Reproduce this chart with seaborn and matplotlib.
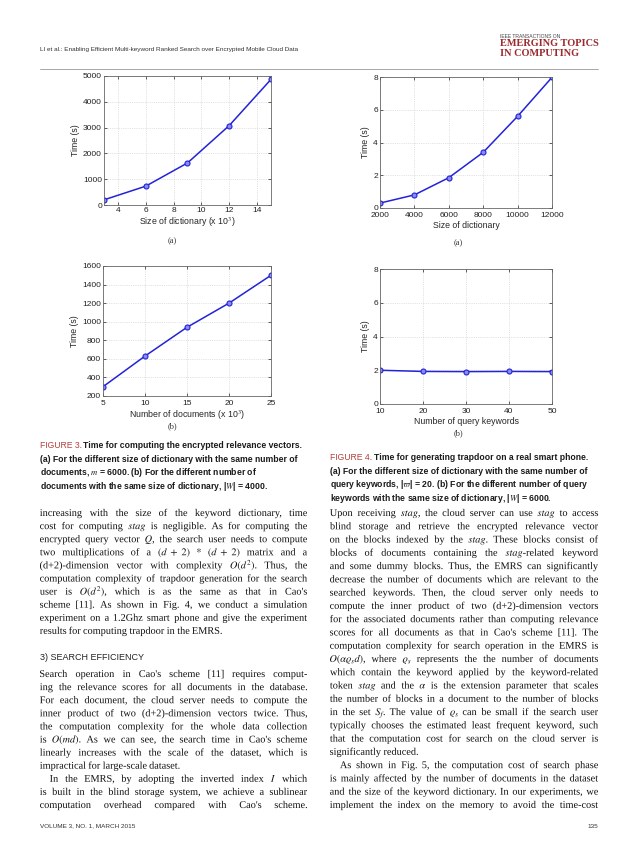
import re
import matplotlib
matplotlib.use("Agg")
import matplotlib.pyplot as plt
import matplotlib.transforms as mtransforms
from matplotlib.textpath import TextPath
from matplotlib.patches import PathPatch
from matplotlib.font_manager import FontProperties
import pandas as pd
import seaborn as sns

# ---- data ----
dict_size_k = [3, 6, 9, 12, 15]
enc_time_dict = [200, 730, 1630, 3080, 4870]
num_docs_k = [5, 10, 15, 20, 25]
enc_time_docs = [300, 630, 940, 1200, 1500]
dict_size = [2000, 4000, 6000, 8000, 10000, 12000]
trap_time_dict = [0.3, 0.8, 1.85, 3.4, 5.6, 7.98]
query_kw = [10, 20, 30, 40, 50]
trap_time_kw = [2.0, 1.93, 1.92, 1.93, 1.92]

W, H = 638, 867
sns.set_theme(style="ticks")
plt.rcParams["font.family"] = ["Liberation Sans", "DejaVu Sans"]
plt.rcParams["mathtext.fontset"] = "stix"

fig = plt.figure(figsize=(W / 100, H / 100), dpi=100)
fig.patch.set_facecolor("white")
PX = mtransforms.IdentityTransform()

BLUE = "#2323d8"
SERIF = ["Liberation Serif", "DejaVu Serif"]
NARROW = ["Liberation Sans Narrow", "Liberation Sans", "DejaVu Sans"]


def ax_at(left, top, right, bottom):
    return fig.add_axes([left / W, 1 - bottom / H, (right - left) / W, (bottom - top) / H])


def draw_panel(ax, x, y, xlabel, xlim, ylim, xticks, yticks, xpad=1.5):
    df = pd.DataFrame({"x": x, "y": y})
    sns.lineplot(data=df, x="x", y="y", ax=ax, color=BLUE, lw=1.1, marker="o",
                 markersize=3.6, markerfacecolor="#8a8af5", markeredgecolor=BLUE,
                 markeredgewidth=0.8)
    ax.set_xlim(*xlim)
    ax.set_ylim(*ylim)
    ax.set_xticks(xticks)
    ax.set_yticks(yticks)
    ax.grid(True, ls=":", lw=0.5, color="#c8c8c8")
    ax.tick_params(direction="in", length=2, width=0.5, labelsize=6, pad=1.5,
                   top=True, right=True, colors="#222222")
    ax.tick_params(axis="x", pad=xpad)
    for s in ax.spines.values():
        s.set_linewidth(0.6)
        s.set_color("#666666")
    ax.set_xlabel(xlabel, fontsize=6.3, labelpad=1)
    ax.set_ylabel("Time (s)", fontsize=6.3, labelpad=2)


a1 = ax_at(104, 76, 271, 205)
draw_panel(a1, dict_size_k, enc_time_dict, "Size of dictionary (x 10$^3$)", (3, 15), (0, 5000),
           [4, 6, 8, 10, 12, 14], [0, 1000, 2000, 3000, 4000, 5000])
a2 = ax_at(380, 77, 552, 208)
draw_panel(a2, dict_size, trap_time_dict, "Size of dictionary", (2000, 12000), (0, 8),
           [2000, 4000, 6000, 8000, 10000, 12000], [0, 2, 4, 6, 8], xpad=3.2)
a3 = ax_at(103, 266, 271, 396)
draw_panel(a3, num_docs_k, enc_time_docs, "Number of documents (x 10$^3$)", (5, 25), (200, 1600),
           [5, 10, 15, 20, 25], [200, 400, 600, 800, 1000, 1200, 1400, 1600], xpad=3.2)
a4 = ax_at(380, 269, 552, 404)
draw_panel(a4, query_kw, trap_time_kw, "Number of query keywords", (10, 50), (0, 8),
           [10, 20, 30, 40, 50], [0, 2, 4, 6, 8], xpad=3.2)


def put(x, y, s, **kw):
    return fig.text(x, H - y, s, transform=PX, **kw)


for (x, y, s) in [(172, 241, "(a)"), (458, 243, "(a)"), (172, 426, "(b)"), (458, 433, "(b)")]:
    put(x, y, s, fontsize=6, family=SERIF, ha="center", va="center", color="#333333")

# ---- page header / footer ----
put(40, 50, "LI et al.: Enabling Efficient Multi-keyword Ranked Search over Encrypted Mobile Cloud Data",
    fontsize=4.6, va="center", color="#333333")
put(500, 37, "IEEE TRANSACTIONS ON", fontsize=3.6, va="center", color="#444444")
put(500, 43.5, "EMERGING TOPICS", fontsize=7.4, family=SERIF, weight="bold", va="center", color="#9b2a2e")
put(500, 54, "IN COMPUTING", fontsize=7.4, family=SERIF, weight="bold", va="center", color="#9b2a2e")
fig.add_artist(plt.Line2D([40 / W, 598 / W], [1 - 69 / H, 1 - 69 / H], color="#999999", lw=0.6))
put(40, 826, "VOLUME 3, NO. 1, MARCH 2015", fontsize=4.6, va="center", color="#333333")
put(598, 826, "135", fontsize=4.6, va="center", ha="right", color="#333333")

# ---- captions ----
cap3 = ["Time for computing the encrypted relevance vectors.",
        "(a) For the different size of dictionary with the same number of",
        "documents, $m$ = 6000. (b) For the different number of",
        "documents with the same size of dictionary, |$W$| = 4000."]
cap4 = ["Time for generating trapdoor on a real smart phone.",
        "(a) For the different size of dictionary with the same number of",
        "query keywords, |$\\varpi$| = 20. (b) For the different number of query",
        "keywords with the same size of dictionary, |$W$| = 6000."]


def caption(x, y0, label, lines, xfirst):
    put(x, y0, label, fontsize=6.2, family=NARROW, va="center", color="#b5403c")
    for i, ln in enumerate(lines):
        put(xfirst if i == 0 else x, y0 + i * 13.4, ln, fontsize=6.2, family=NARROW,
            weight="bold", va="center", color="#1a1a1a")


caption(40, 446, "FIGURE 3.", cap3, 83)
caption(330, 458, "FIGURE 4.", cap4, 374)

# ---- body text (justified, drawn as glyph paths for exact placement) ----
BODY_PT = 7.4
BODY_PX = BODY_PT * 100 / 72
BODY_FP = FontProperties(family=SERIF)


def body_line(x0, x1, y, text, justify=True):
    toks = re.findall(r"(?:\$[^$]*\$|\S)+", text)
    paths = [TextPath((0, 0), t, size=BODY_PX, prop=BODY_FP) for t in toks]
    ext = [p.get_extents() for p in paths]
    ws = [e.width for e in ext]
    gap = (x1 - x0 - sum(ws)) / max(len(toks) - 1, 1) if justify else BODY_PX * 0.27
    x = x0
    for p, e, w in zip(paths, ext, ws):
        tr = mtransforms.Affine2D().translate(x - e.x0, H - (y + 3))
        fig.add_artist(PathPatch(p, transform=tr, facecolor="#111111", edgecolor="none", lw=0))
        x += w + gap


left_a = ["increasing with the size of the keyword dictionary, time",
          "cost for computing $stag$ is negligible. As for computing the",
          "encrypted query vector $Q$, the search user needs to compute",
          "two multiplications of a $(d\\ +\\ 2)$ $*$ $(d\\ +\\ 2)$ matrix and a",
          "(d+2)-dimension vector with complexity $O(d^2)$. Thus, the",
          "computation complexity of trapdoor generation for the search",
          "user is $O(d^2)$, which is as the same as that in Cao's",
          "scheme [11]. As shown in Fig. 4, we conduct a simulation",
          "experiment on a 1.2Ghz smart phone and give the experiment",
          "results for computing trapdoor in the EMRS."]
left_b = ["Search operation in Cao's scheme [11] requires comput-",
          "ing the relevance scores for all documents in the database.",
          "For each document, the cloud server needs to compute the",
          "inner product of two (d+2)-dimension vectors twice. Thus,",
          "the computation complexity for the whole data collection",
          "is $O(md)$. As we can see, the search time in Cao's scheme",
          "linearly increases with the scale of the dataset, which is",
          "impractical for large-scale dataset.",
          "In the EMRS, by adopting the inverted index $I$ which",
          "is built in the blind storage system, we achieve a sublinear",
          "computation overhead compared with Cao's scheme."]
right_col = ["Upon receiving $stag$, the cloud server can use $stag$ to access",
             "blind storage and retrieve the encrypted relevance vector",
             "on the blocks indexed by the $stag$. These blocks consist of",
             "blocks of documents containing the $stag$-related keyword",
             "and some dummy blocks. Thus, the EMRS can significantly",
             "decrease the number of documents which are relevant to the",
             "searched keywords. Then, the cloud server only needs to",
             "compute the inner product of two (d+2)-dimension vectors",
             "for the associated documents rather than computing relevance",
             "scores for all documents as that in Cao's scheme [11]. The",
             "computation complexity for search operation in the EMRS is",
             "$O(\\alpha\\varrho_s d)$, where $\\varrho_s$ represents the the number of documents",
             "which contain the keyword applied by the keyword-related",
             "token $stag$ and the $\\alpha$ is the extension parameter that scales",
             "the number of blocks in a document to the number of blocks",
             "in the set $S_f$. The value of $\\varrho_s$ can be small if the search user",
             "typically chooses the estimated least frequent keyword, such",
             "that the computation cost for search on the cloud server is",
             "significantly reduced.",
             "As shown in Fig. 5, the computation cost of search phase",
             "is mainly affected by the number of documents in the dataset",
             "and the size of the keyword dictionary. In our experiments, we",
             "implement the index on the memory to avoid the time-cost"]

for i, ln in enumerate(left_a):
    body_line(40, 307, 513 + i * 13.1, ln, justify=(i != len(left_a) - 1))
put(40, 658, "3) SEARCH EFFICIENCY", fontsize=6.5, va="center", color="#222222")
for i, ln in enumerate(left_b):
    indent = 10 if ln.startswith("In the EMRS") else 0
    body_line(40 + indent, 307, 674 + i * 13.1, ln, justify=(i != 7))
for i, ln in enumerate(right_col):
    indent = 10 if ln.startswith("As shown in Fig. 5") else 0
    body_line(330 + indent, 598, 513 + i * 13.27, ln, justify=(i != 18))

fig.savefig("out.png", dpi=100, facecolor="white")
